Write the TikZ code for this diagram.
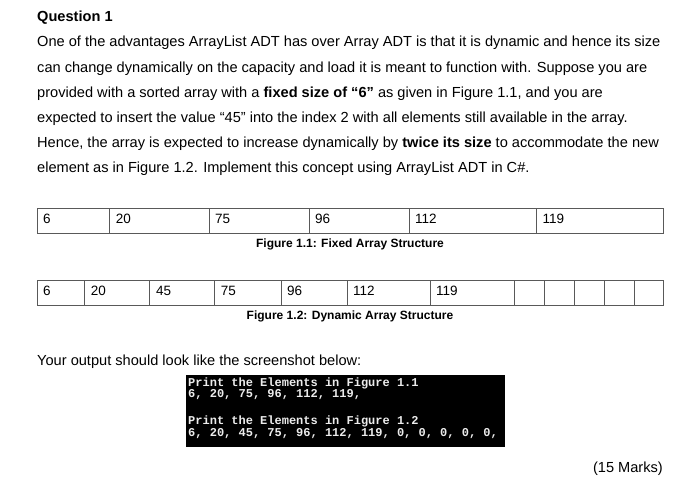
\documentclass[tikz,border=0pt]{standalone}
\usepackage{fontspec}
\setmainfont{Liberation Sans}
\newfontfamily\consfont{Liberation Mono}
\begin{document}
\begin{tikzpicture}[x=1pt,y=-1pt,
  txt/.style={anchor=base west,inner sep=0pt,font=\fontsize{14.6}{16}\selectfont},
  cell/.style={anchor=base west,inner sep=0pt,font=\fontsize{13.5}{15}\selectfont},
  figcap/.style={anchor=base,inner sep=0pt,font=\bfseries\fontsize{12}{14}\selectfont},
  con/.style={anchor=base west,inner sep=0pt,text=white!85!gray,font=\consfont\bfseries\fontsize{12}{13}\selectfont}]
\useasboundingbox (0,0) rectangle (700,487);
\node[txt,font=\bfseries\fontsize{14.6}{16}\selectfont] (q) at (37,22) {Question 1};
\node[txt] (l1) at (37,47) {One of the advantages ArrayList ADT has over Array ADT is that it is dynamic and hence its size};
\node[txt] (l2) at (37,72) {can change dynamically on the capacity and load it is meant to function with. Suppose you are};
\node[txt] (l3) at (37,97) {provided with a sorted array with a \textbf{fixed size of “6”} as given in Figure 1.1, and you are};
\node[txt] (l4) at (37,122) {expected to insert the value “45” into the index 2 with all elements still available in the array.};
\node[txt] (l5) at (37,147) {Hence, the array is expected to increase dynamically by \textbf{twice its size} to accommodate the new};
\node[txt] (l6) at (37,172) {element as in Figure 1.2. Implement this concept using ArrayList ADT in C\#.};
% array 1
\draw[gray!70!black,line width=0.8pt] (37,208) rectangle (663,233);
\foreach \x in {109.6,209,309,409,536.5} \draw[gray!70!black,line width=0.8pt] (\x,208) -- (\x,233);
\foreach \x/\v [count=\i] in {37/6,109.6/20,209/75,309/96,409/112,536.5/119}
  \node[cell] (a\i) at (\x+6,223) {\v};
\node[figcap] (c1) at (350,247) {Figure 1.1: Fixed Array Structure};
% array 2
\draw[gray!70!black,line width=0.8pt] (37,280) rectangle (663,305);
\foreach \x in {84.6,149.8,214.6,281,347,430,514,544,574,604,634} \draw[gray!70!black,line width=0.8pt] (\x,280) -- (\x,305);
\foreach \x/\v [count=\i] in {37/6,84.6/20,149.8/45,214.6/75,281/96,347/112,430/119}
  \node[cell] (b\i) at (\x+6,295) {\v};
\node[figcap] (c2) at (350,319) {Figure 1.2: Dynamic Array Structure};
\node[txt] (out) at (37,365) {Your output should look like the screenshot below:};
\fill[black] (186,375) rectangle (505,447);
\node[con] (p1) at (188,386) {Print the Elements in Figure 1.1};
\node[con] (p2) at (188,397) {6, 20, 75, 96, 112, 119,};
\node[con] (p3) at (188,424) {Print the Elements in Figure 1.2};
\node[con] (p4) at (188,436) {6, 20, 45, 75, 96, 112, 119, 0, 0, 0, 0, 0,};
\node[txt,anchor=base east] (m) at (663,472) {(15 Marks)};
\end{tikzpicture}
\end{document}
